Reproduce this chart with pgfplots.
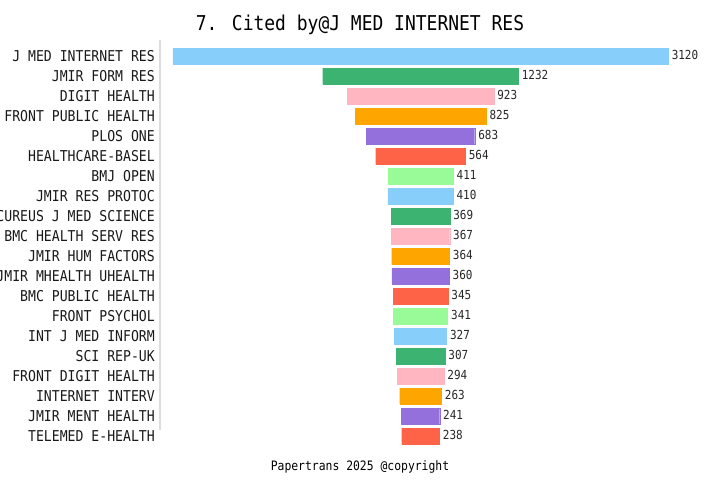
\documentclass[border=0pt]{standalone}
\usepackage{fontspec}
\setmainfont[FakeStretch=0.88]{DejaVu Sans Mono}
\usepackage{pgfplots}
\pgfplotsset{compat=1.18}
\usepackage{pgfplotstable}
\definecolor{c1}{HTML}{87CEFA}
\definecolor{c2}{HTML}{3CB371}
\definecolor{c3}{HTML}{FFB6C1}
\definecolor{c4}{HTML}{FFA500}
\definecolor{c5}{HTML}{9370DB}
\definecolor{c6}{HTML}{FF6347}
\definecolor{c7}{HTML}{98FB98}
\definecolor{spine}{HTML}{DDDDDD}
\pgfplotstableread{
idx v
1 3120
8 410
15 327
}\tA
\pgfplotstableread{
idx v
2 1232
9 369
16 307
}\tB
\pgfplotstableread{
idx v
3 923
10 367
17 294
}\tC
\pgfplotstableread{
idx v
4 825
11 364
18 263
}\tD
\pgfplotstableread{
idx v
5 683
12 360
19 241
}\tE
\pgfplotstableread{
idx v
6 564
13 345
20 238
}\tF
\pgfplotstableread{
idx v
7 411
14 341
}\tG
\pgfplotsset{
  halfbar/.style={xbar, bar width=16bp, bar shift=0pt, fill=#1, draw=#1, line width=0.2bp},
  poshalf/.style={halfbar=#1, nodes near coords, point meta=explicit symbolic,
    nodes near coords style={font=\fontsize{12.5}{14}\selectfont, anchor=west, inner sep=0pt, xshift=3.5bp, yshift=1bp, text=black!85}},
}
\begin{document}
\begin{tikzpicture}
\useasboundingbox (0bp,0bp) rectangle (720bp,-480bp);
\begin{axis}[at={(160bp,-40bp)}, anchor=north west, scale only axis,
  width=521bp, height=412bp,
  xmin=-1641, xmax=1641, ymin=0.2, ymax=20.8, y dir=reverse,
  axis line style={draw=none},
  xtick=\empty, ytick={1,...,20},
  yticklabels={J MED INTERNET RES, JMIR FORM RES, DIGIT HEALTH, FRONT PUBLIC HEALTH, PLOS ONE, HEALTHCARE-BASEL, BMJ OPEN, JMIR RES PROTOC, CUREUS J MED SCIENCE, BMC HEALTH SERV RES, JMIR HUM FACTORS, JMIR MHEALTH UHEALTH, BMC PUBLIC HEALTH, FRONT PSYCHOL, INT J MED INFORM, SCI REP-UK, FRONT DIGIT HEALTH, INTERNET INTERV, JMIR MENT HEALTH, TELEMED E-HEALTH},
  major tick length=0pt, tick style={draw=none},
  yticklabel style={font=\fontsize{15}{17}\selectfont, anchor=east, inner sep=0pt, xshift=-5bp, text=black!90},
  clip=false,
]
\draw[line width=1.5bp, spine] (axis cs:-1641,0.2) -- (axis cs:-1641,19.7);
\addplot[poshalf=c1] table[x expr=\thisrow{v}/2, y=idx, meta=v] {\tA};
\addplot[halfbar=c1] table[x expr=-\thisrow{v}/2, y=idx] {\tA};
\addplot[poshalf=c2] table[x expr=\thisrow{v}/2, y=idx, meta=v] {\tB};
\addplot[halfbar=c2] table[x expr=-\thisrow{v}/2, y=idx] {\tB};
\addplot[poshalf=c3] table[x expr=\thisrow{v}/2, y=idx, meta=v] {\tC};
\addplot[halfbar=c3] table[x expr=-\thisrow{v}/2, y=idx] {\tC};
\addplot[poshalf=c4] table[x expr=\thisrow{v}/2, y=idx, meta=v] {\tD};
\addplot[halfbar=c4] table[x expr=-\thisrow{v}/2, y=idx] {\tD};
\addplot[poshalf=c5] table[x expr=\thisrow{v}/2, y=idx, meta=v] {\tE};
\addplot[halfbar=c5] table[x expr=-\thisrow{v}/2, y=idx] {\tE};
\addplot[poshalf=c6] table[x expr=\thisrow{v}/2, y=idx, meta=v] {\tF};
\addplot[halfbar=c6] table[x expr=-\thisrow{v}/2, y=idx] {\tF};
\addplot[poshalf=c7] table[x expr=\thisrow{v}/2, y=idx, meta=v] {\tG};
\addplot[halfbar=c7] table[x expr=-\thisrow{v}/2, y=idx] {\tG};
\end{axis}
\node[anchor=base, font=\fontsize{20.5}{24}\selectfont] at (360bp,-30bp) {7. Cited by@J MED INTERNET RES};
\node[anchor=base, font=\fontsize{13}{15}\selectfont] at (360bp,-470bp) {Papertrans 2025 @copyright};
\end{tikzpicture}
\end{document}
